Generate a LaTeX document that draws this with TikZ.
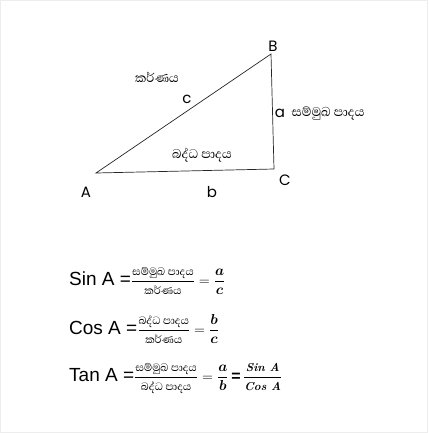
\documentclass[tikz,border=0pt]{standalone}
\usepackage{amsmath}
\usepackage{fontspec}
\newfontfamily\sinhalafont[Script=Sinhala]{Abhaya Libre}
\newfontfamily\eqfont{Liberation Sans}
\newfontfamily\trifont{Poppins}
% Sinhala words used in the picture
\newcommand{\hyp}{කර්ණය}
\newcommand{\opp}{සම්මුඛ පාදය}
\newcommand{\adj}{බද්ධ පාදය}
\newcommand{\fracword}[1]{\text{\sinhalafont\fontsize{13.5}{14}\selectfont #1}}
\newcommand{\ratio}[1]{{\fontsize{14}{16}\selectfont$#1$}}
\newcommand{\fnword}[1]{\text{\rmfamily\bfseries\itshape\fontsize{11.5}{13}\selectfont #1}}
\newcommand{\sd}[1]{\boldsymbol{#1}}
\begin{document}
\begin{tikzpicture}[x=1pt,y=-1pt,
    side/.style={draw=black!85,line width=0.7pt},
    corner/.style={font=\trifont\fontsize{15}{17}\selectfont,inner sep=0pt},
    sideword/.style={font=\sinhalafont\fontsize{16}{18}\selectfont,inner sep=0pt},
    row/.style={anchor=base west,inner sep=0pt,font=\eqfont\fontsize{19}{22}\selectfont}]
    \draw[black!7,line width=0.5pt] (0.5,0.5) rectangle (427.5,432.5);
    \useasboundingbox (0,0) rectangle (428,433);
    % triangle
    \coordinate (A) at (96,173);
    \coordinate (B) at (271,54);
    \coordinate (C) at (274,169);
    \draw[side] (A) -- (B) -- (C) -- cycle;
    \node[corner] (labA) at (86,192) {A};
    \node[corner] (labB) at (273,46) {B};
    \node[corner] (labC) at (285,180) {C};
    \node[corner] (laba) at (280,113) {a};
    \node[corner] (labb) at (212,192) {b};
    \node[corner] (labc) at (187,99) {c};
    \node[sideword] (wordhyp) at (157,77) {\hyp};
    \node[sideword] (wordopp) at (328,114) {\opp};
    \node[sideword] (wordadj) at (202,155) {\adj};
    % ratios
    \node[row] (sinrow) at (69,285) {Sin A =\ratio{\dfrac{\fracword{\opp}}{\fracword{\hyp}}=\dfrac{\sd a}{\sd c}}};
    \node[row] (cosrow) at (69,334) {Cos A =\ratio{\dfrac{\fracword{\adj}}{\fracword{\hyp}}=\dfrac{\sd b}{\sd c}}};
    \node[row] (tanrow) at (69,381) {Tan A =\ratio{\dfrac{\fracword{\opp}}{\fracword{\adj}}=\dfrac{\sd a}{\sd b}}%
      {\fontsize{16}{18}\selectfont\bfseries\,=\,}\ratio{\dfrac{\fnword{Sin A}}{\fnword{Cos A}}}};
\end{tikzpicture}
\end{document}
